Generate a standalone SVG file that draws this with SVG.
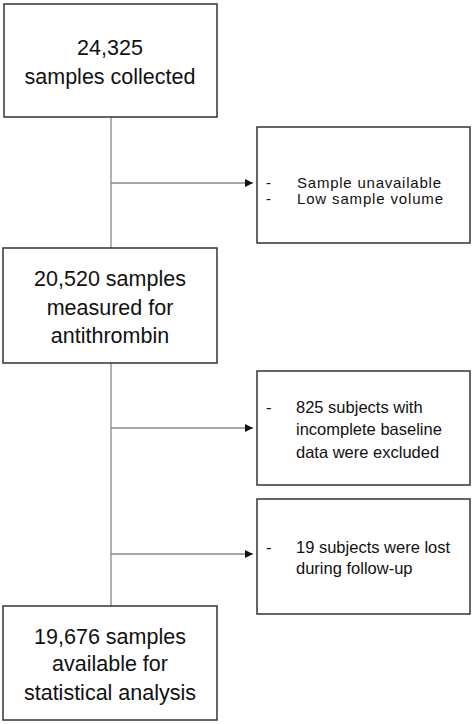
<svg xmlns="http://www.w3.org/2000/svg" width="474" height="724" viewBox="0 0 474 724">
<style>
.box{fill:#fff;stroke:#333;stroke-width:1.5}
.main{font-family:"Liberation Sans",Arial,sans-serif;font-size:21.5px;fill:#111;text-anchor:middle}
.side{font-family:"Liberation Sans",Arial,sans-serif;font-size:16.5px;fill:#111}
.side.s{font-size:15px}
.conn{stroke:#888;stroke-width:1.3;fill:none}
</style>
<defs>
<marker id="ah" viewBox="0 0 10 10" refX="10" refY="5" markerWidth="8" markerHeight="8" markerUnits="userSpaceOnUse" orient="auto">
<path d="M0,0 L10,5 L0,10 z" fill="#111"/>
</marker>
</defs>
<rect width="474" height="724" fill="#fff"/>
<g id="connectors">
<line class="conn" x1="111" y1="117" x2="111" y2="248"/>
<line class="conn" x1="111" y1="363" x2="111" y2="606"/>
<line class="conn" x1="111" y1="183" x2="253" y2="183" marker-end="url(#ah)"/>
<line class="conn" x1="111" y1="428" x2="253" y2="428" marker-end="url(#ah)"/>
<line class="conn" x1="111" y1="554" x2="253" y2="554" marker-end="url(#ah)"/>
</g>
<g id="n1">
<rect class="box" x="4" y="4" width="213" height="113"/>
<text class="main" x="110" y="55">24,325</text>
<text class="main" x="110" y="84">samples collected</text>
</g>
<g id="n2">
<rect class="box" x="257" y="127" width="213" height="116"/>
<text class="side s" x="266" y="188">-</text>
<text class="side s" x="297" y="188" textLength="144" lengthAdjust="spacing">Sample unavailable</text>
<text class="side s" x="266" y="204">-</text>
<text class="side s" x="297" y="204" textLength="146" lengthAdjust="spacing">Low sample volume</text>
</g>
<g id="n3">
<rect class="box" x="3" y="248" width="214" height="115"/>
<text class="main" x="110" y="286">20,520 samples</text>
<text class="main" x="110" y="315">measured for</text>
<text class="main" x="110" y="343">antithrombin</text>
</g>
<g id="n4">
<rect class="box" x="257" y="371" width="213" height="114"/>
<text class="side" x="266" y="413">-</text>
<text class="side" x="296" y="413">825 subjects with</text>
<text class="side" x="296" y="435">incomplete baseline</text>
<text class="side" x="296" y="458">data were excluded</text>
</g>
<g id="n5">
<rect class="box" x="257" y="499" width="213" height="115"/>
<text class="side" x="266" y="553">-</text>
<text class="side" x="296" y="553">19 subjects were lost</text>
<text class="side" x="296" y="574">during follow-up</text>
</g>
<g id="n6">
<rect class="box" x="3" y="606" width="214" height="114"/>
<text class="main" x="110" y="644">19,676 samples</text>
<text class="main" x="110" y="671">available for</text>
<text class="main" x="110" y="700">statistical analysis</text>
</g>
</svg>
